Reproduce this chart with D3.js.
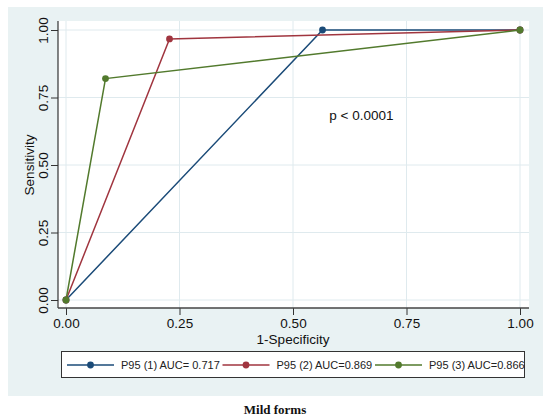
<!DOCTYPE html>
<html>
<head>
<meta charset="utf-8">
<script src="https://cdn.jsdelivr.net/npm/d3@7"></script>
<style>
  body { margin: 0; background: #fff; }
  svg { display: block; font-family: "Liberation Sans", Arial, sans-serif; }
</style>
</head>
<body>
<div id="chart"></div>
<script>
// ROC curves, mild forms
const series = ['P95 (1) AUC= 0.717', 'P95 (2) AUC=0.869', 'P95 (3) AUC=0.866']
const colors = ['#1b4b78', '#a0353f', '#527a2d']
const fpr1 = [0, 0.565, 1]
const tpr1 = [0, 1, 1]
const fpr2 = [0, 0.228, 1]
const tpr2 = [0, 0.967, 1]
const fpr3 = [0, 0.087, 1]
const tpr3 = [0, 0.82, 1]
const ticks = [0, 0.25, 0.5, 0.75, 1]
const note = 'p < 0.0001'
const notePos = [0.58, 0.667]
const caption = 'Mild forms'

const W = 550, H = 420
const svg = d3.select('#chart').append('svg')
  .attr('width', W)
  .attr('height', H)

// graph region
svg.append('rect')
  .attr('x', 8).attr('y', 7)
  .attr('width', 535).attr('height', 389)
  .attr('fill', '#e9f2f3')

const x = d3.scaleLinear().domain([0, 1]).range([66, 520])
const y = d3.scaleLinear().domain([0, 1]).range([300, 30])

// plot region bounds (a little wider than the scale range)
const px0 = x.range()[0] - 8, px1 = x.range()[1] + 9
const py0 = y.range()[1] - 9, py1 = y.range()[0] + 8

svg.append('rect')
  .attr('x', px0).attr('y', py0)
  .attr('width', px1 - px0).attr('height', py1 - py0)
  .attr('fill', '#fff')

// grid
const grid = svg.append('g').attr('stroke', '#dfeaee').attr('stroke-width', 1)
grid.selectAll('.gx').data(ticks).join('line')
  .attr('x1', d => x(d)).attr('x2', d => x(d))
  .attr('y1', py0).attr('y2', py1)
grid.selectAll('.gy').data(ticks).join('line')
  .attr('x1', px0).attr('x2', px1)
  .attr('y1', d => y(d)).attr('y2', d => y(d))

// axes
const fmt = d3.format('.2f')
const xAxis = svg.append('g')
  .attr('transform', `translate(0,${py1})`)
  .call(d3.axisBottom(x).tickValues(ticks).tickFormat(fmt).tickSize(7).tickPadding(3))
xAxis.select('.domain').remove()
xAxis.selectAll('line').attr('stroke', '#333')
xAxis.selectAll('text')
  .attr('font-size', '13.5px').attr('fill', '#111')
  .attr('font-family', '"Liberation Sans", Arial, sans-serif')

const yAxis = svg.append('g')
  .attr('transform', `translate(${px0},0)`)
  .call(d3.axisLeft(y).tickValues(ticks).tickFormat(fmt).tickSize(7))
yAxis.select('.domain').remove()
yAxis.selectAll('line').attr('stroke', '#333')
yAxis.selectAll('text')
  .attr('font-size', '13.5px').attr('fill', '#111')
  .attr('font-family', '"Liberation Sans", Arial, sans-serif')
  .attr('text-anchor', 'middle')
  .attr('dy', 0)
  .attr('x', 0)
  .attr('transform', 'translate(-10,0) rotate(-90)')

svg.append('line')
  .attr('x1', px0).attr('x2', px0).attr('y1', py0).attr('y2', py1)
  .attr('stroke', '#333').attr('stroke-width', 1.2)
svg.append('line')
  .attr('x1', px0).attr('x2', px1).attr('y1', py1).attr('y2', py1)
  .attr('stroke', '#444').attr('stroke-width', 1.6)

// axis titles
svg.append('text')
  .attr('x', (x.range()[0] + x.range()[1]) / 2).attr('y', 343.5)
  .attr('text-anchor', 'middle').attr('font-size', '13.5px').attr('fill', '#111')
  .text('1-Specificity')
svg.append('text')
  .attr('transform', `translate(34,${(y.range()[0] + y.range()[1]) / 2}) rotate(-90)`)
  .attr('text-anchor', 'middle').attr('font-size', '13.5px').attr('fill', '#111')
  .text('Sensitivity')

// curves
const curves = [[fpr1, tpr1], [fpr2, tpr2], [fpr3, tpr3]]
const line = d3.line().x(d => x(d[0])).y(d => y(d[1]))
curves.forEach(([fx, ty], i) => {
  const pts = fx.map((v, j) => [v, ty[j]])
  svg.append('path')
    .datum(pts)
    .attr('d', line)
    .attr('fill', 'none')
    .attr('stroke', colors[i])
    .attr('stroke-width', 1.5)
  svg.append('g').selectAll('circle').data(pts).join('circle')
    .attr('cx', d => x(d[0])).attr('cy', d => y(d[1]))
    .attr('r', 3.4)
    .attr('fill', colors[i])
})

svg.append('text')
  .attr('x', x(notePos[0])).attr('y', y(notePos[1]))
  .attr('font-size', '13.5px').attr('fill', '#111')
  .text(note)

// legend
const legend = svg.append('g')
legend.append('rect')
  .attr('x', 61.5).attr('y', 351.5)
  .attr('width', 463).attr('height', 26)
  .attr('fill', '#fff').attr('stroke', '#333').attr('stroke-width', 1)
const keyX = [67, 222.5, 375]
series.forEach((s, i) => {
  const g = legend.append('g').attr('transform', `translate(${keyX[i]},365)`)
  g.append('line').attr('x1', 0).attr('x2', 47).attr('stroke', colors[i]).attr('stroke-width', 1.5)
  g.append('circle').attr('cx', 23.5).attr('r', 3.4).attr('fill', colors[i])
  g.append('text').attr('x', 54).attr('y', 4)
    .attr('font-size', '11px').attr('fill', '#222')
    .text(s)
})

// caption
svg.append('text')
  .attr('x', W / 2).attr('y', 414)
  .attr('text-anchor', 'middle')
  .attr('font-family', '"Liberation Serif", "Times New Roman", serif')
  .attr('font-weight', 'bold').attr('font-size', '13px').attr('fill', '#111')
  .text(caption)
</script>
</body>
</html>
